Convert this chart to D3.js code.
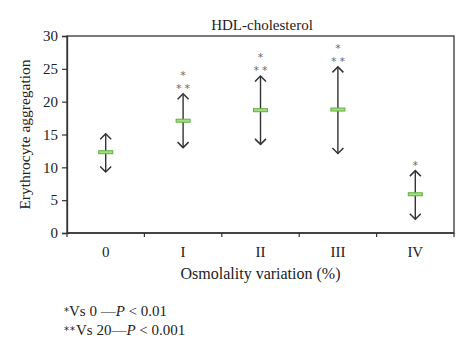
<!DOCTYPE html>
<html><head><meta charset="utf-8">
<script src="https://cdn.jsdelivr.net/npm/d3@7"></script>
<style>body{margin:0;background:#fff}svg{display:block}text{font-family:"Liberation Serif","DejaVu Serif",serif;fill:#222}</style>
</head><body>
<script>
const categories = ["0","I","II","III","IV"];
const means = [12.3, 17.1, 18.7, 18.8, 5.9];
const upper = [15.1, 21.2, 23.9, 25.3, 9.5];
const lower = [9.3, 13.0, 13.5, 12.1, 2.1];
const starsTop = ["", "*", "*", "*", "*"];
const starsSecond = ["", "**", "**", "**", ""];
const yTicks = [0,5,10,15,20,25,30];

const W=474,H=355;
const m={l:67,t:36,r:20,b:122};
const svg=d3.select("body").append("svg").attr("width",W).attr("height",H);
const x=d3.scaleBand().domain(categories).range([m.l,W-m.r]);
const y=d3.scaleLinear().domain([0,30]).range([H-m.b,m.t]);
const g=svg.append("g");
const ink="#333";
const FS=15;

// frame
g.append("rect").attr("x",m.l).attr("y",m.t).attr("width",W-m.r-m.l).attr("height",H-m.b-m.t)
 .attr("fill","none").attr("stroke",ink).attr("stroke-width",1.3);

// y axis
const ya=g.append("g").attr("transform",`translate(${m.l},0)`).call(d3.axisLeft(y).tickValues(yTicks).tickSize(5).tickPadding(4));
ya.select(".domain").attr("stroke",ink).attr("stroke-width",1.3);
ya.selectAll("line").attr("stroke",ink).attr("stroke-width",1.2);
ya.selectAll("text").attr("font-size",FS).attr("fill","#222").style("font-family","Liberation Serif");

// x axis: ticks at band boundaries
const xa=g.append("g").attr("transform",`translate(0,${H-m.b})`);
xa.append("line").attr("x1",m.l).attr("x2",W-m.r).attr("stroke",ink).attr("stroke-width",1.3);
const bounds=categories.map(c=>x(c)).concat([x.range()[1]]);
xa.selectAll("line.t").data(bounds).join("line").attr("class","t")
 .attr("x1",d=>d).attr("x2",d=>d).attr("y1",0).attr("y2",4).attr("stroke",ink).attr("stroke-width",1.2);
xa.selectAll("text").data(categories).join("text")
 .attr("x",d=>x(d)+x.bandwidth()/2).attr("y",24).attr("text-anchor","middle").attr("font-size",FS).text(d=>d);

// error arrows
const cx=i=>x(categories[i])+x.bandwidth()/2;
categories.forEach((c,i)=>{
  const X=cx(i);
  g.append("line").attr("x1",X).attr("x2",X).attr("y1",y(upper[i])).attr("y2",y(lower[i]))
   .attr("stroke",ink).attr("stroke-width",1.4);
  const a=5.5, ah=5.5;
  g.append("path").attr("d",`M${X-a},${y(upper[i])+ah}L${X},${y(upper[i])}L${X+a},${y(upper[i])+ah}`)
   .attr("fill","none").attr("stroke",ink).attr("stroke-width",1.5);
  g.append("path").attr("d",`M${X-a},${y(lower[i])-ah}L${X},${y(lower[i])}L${X+a},${y(lower[i])-ah}`)
   .attr("fill","none").attr("stroke",ink).attr("stroke-width",1.5);
  g.append("rect").attr("x",X-7).attr("y",y(means[i])-1.5).attr("width",14).attr("height",3)
   .attr("fill","#a6de7e").attr("stroke","#5fb043").attr("stroke-width",1);
  const sf=11;
  if(starsSecond[i]) {
    g.append("text").attr("x",X+1.5).attr("y",y(upper[i])-2).attr("text-anchor","middle").attr("font-size",sf)
     .style("font-family","DejaVu Sans").style("fill","#6a6a6a").attr("letter-spacing",3).text(starsSecond[i]);
  }
  if(starsTop[i]) {
    g.append("text").attr("x",X).attr("y",y(upper[i])-(starsSecond[i]?15:2)).attr("text-anchor","middle").attr("font-size",sf)
     .style("font-family","DejaVu Sans").style("fill","#6a6a6a").text(starsTop[i]);
  }
});

// titles
svg.append("text").attr("x",262).attr("y",30).attr("text-anchor","middle").attr("font-size",FS).text("HDL-cholesterol");
svg.append("text").attr("transform",`translate(30,${(m.t+H-m.b)/2}) rotate(-90)`).attr("text-anchor","middle")
 .attr("font-size",FS+0.5).text("Erythrocyte aggregation");
svg.append("text").attr("x",(m.l+W-m.r)/2).attr("y",279).attr("text-anchor","middle").attr("font-size",FS+1).text("Osmolality variation (%)");

// footnotes
const f1=svg.append("text").attr("x",64).attr("y",316).attr("font-size",FS);
f1.append("tspan").attr("font-size",10).style("font-family","DejaVu Sans").attr("dy",-1).text("*");
f1.append("tspan").attr("dy",1).text("Vs 0 \u2014");
f1.append("tspan").attr("font-style","italic").text("P");
f1.append("tspan").text(" < 0.01");
const f2=svg.append("text").attr("x",64).attr("y",335).attr("font-size",FS);
f2.append("tspan").attr("font-size",10).style("font-family","DejaVu Sans").attr("dy",-1).attr("letter-spacing",1).text("**");
f2.append("tspan").attr("dy",1).text("Vs 20\u2014");
f2.append("tspan").attr("font-style","italic").text("P");
f2.append("tspan").text(" < 0.001");
</script>
</body></html>
